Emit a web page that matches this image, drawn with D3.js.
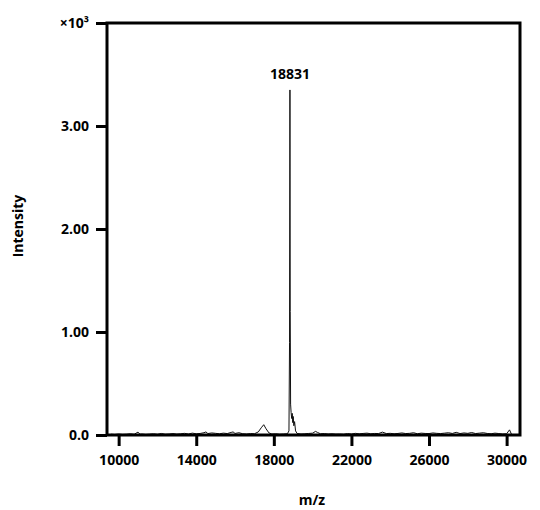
<!DOCTYPE html>
<html>
<head>
<meta charset="utf-8">
<script src="https://cdn.jsdelivr.net/npm/d3@7"></script>
<style>
  html, body { margin: 0; padding: 0; background: #fff; }
  svg text { font-family: "Open Sans", "DejaVu Sans", sans-serif; font-weight: 700; fill: #000; }
</style>
</head>
<body>
<svg id="chart" width="540" height="510"></svg>
<script>
// ---- data ----
const mz = [9600, 9800, 10000, 10200, 10400, 10600, 10800, 11000, 11100, 11200, 11400, 11600, 11800, 12000, 12200, 12400, 12600, 12800, 13000, 13200, 13400, 13600, 13800, 14000, 14200, 14400, 14500, 14600, 14800, 15000, 15200, 15400, 15600, 15800, 15900, 16000, 16200, 16400, 16600, 16800, 17000, 17200, 17350, 17480, 17600, 17750, 17900, 18100, 18300, 18500, 18700, 18780, 18810, 18831, 18845, 18865, 18890, 18920, 18950, 18975, 19000, 19030, 19070, 19120, 19200, 19400, 19600, 19800, 20000, 20150, 20250, 20400, 20600, 20800, 21000, 21200, 21400, 21600, 21800, 22000, 22200, 22400, 22600, 22800, 23000, 23200, 23400, 23600, 23800, 24000, 24200, 24400, 24600, 24800, 25000, 25200, 25400, 25600, 25800, 26000, 26200, 26400, 26600, 26800, 27000, 27200, 27400, 27600, 27800, 28000, 28200, 28400, 28600, 28800, 29000, 29200, 29400, 29600, 29800, 30000, 30150, 30250];
const intensity = [8, 5, 10, 6, 8, 12, 7, 28, 8, 10, 6, 9, 12, 7, 15, 8, 10, 14, 9, 12, 16, 10, 18, 12, 15, 22, 30, 14, 20, 16, 12, 18, 14, 25, 30, 15, 22, 12, 10, 14, 12, 30, 70, 100, 60, 20, 10, 12, 8, 10, 12, 40, 900, 3350, 1200, 300, 220, 160, 210, 120, 180, 90, 130, 40, 15, 10, 12, 15, 18, 35, 25, 12, 14, 10, 12, 9, 10, 8, 14, 10, 16, 12, 15, 18, 12, 15, 14, 28, 14, 16, 12, 15, 20, 14, 16, 22, 12, 18, 15, 14, 20, 16, 14, 18, 22, 15, 26, 14, 20, 16, 24, 14, 18, 22, 15, 12, 18, 14, 10, 12, 50, 8];
const xTicks = [10000, 14000, 18000, 22000, 26000, 30000];
const yTicks = [0, 1000, 2000, 3000, 4000];
const yTickLabels = ["0.0", "1.00", "2.00", "3.00", "\u00d710\u00b3"];
const peakLabel = { mz: 18831, intensity: 3350, text: "18831" };

// ---- layout ----
const svg = d3.select("#chart");
const mLeft = 107, mRight = 520, mTop = 23, mBottom = 435;
const x = d3.scaleLinear().domain([9400, 30690]).range([mLeft, mRight]);
const y = d3.scaleLinear().domain([0, 4000]).range([mBottom, mTop]);

// spectrum line
const pts = mz.map((m, i) => [m, intensity[i]]);
svg.append("path")
  .datum(pts)
  .attr("fill", "none")
  .attr("stroke", "#111")
  .attr("stroke-width", 1)
  .attr("stroke-linejoin", "round")
  .attr("d", d3.line().x(d => x(d[0])).y(d => y(d[1])));

// y axis
const yAxis = svg.append("g")
  .attr("transform", `translate(${mLeft},0)`)
  .call(d3.axisLeft(y).tickValues(yTicks).tickSize(11).tickPadding(7)
    .tickFormat((d, i) => yTickLabels[i]));
yAxis.select(".domain").remove();
yAxis.selectAll(".tick line").attr("stroke", "#000").attr("stroke-width", 3);
yAxis.selectAll(".tick text").style("font-size", "14px").style("font-family", "'Open Sans', sans-serif").style("font-weight", 700);

// x axis
const xAxis = svg.append("g")
  .attr("transform", `translate(0,${mBottom})`)
  .call(d3.axisBottom(x).tickValues(xTicks).tickSize(11).tickPadding(9)
    .tickFormat(d3.format("d")));
xAxis.select(".domain").remove();
xAxis.selectAll(".tick line").attr("stroke", "#000").attr("stroke-width", 3);
xAxis.selectAll(".tick text").style("font-size", "14px").style("font-family", "'Open Sans', sans-serif").style("font-weight", 700);

// frame
svg.append("rect")
  .attr("x", mLeft).attr("y", mTop)
  .attr("width", mRight - mLeft).attr("height", mBottom - mTop)
  .attr("fill", "none").attr("stroke", "#000").attr("stroke-width", 3);

// peak label
svg.append("text")
  .attr("x", x(peakLabel.mz))
  .attr("y", y(peakLabel.intensity) - 11)
  .attr("text-anchor", "middle")
  .style("font-size", "14px")
  .text(peakLabel.text);

// axis titles
svg.append("text")
  .attr("x", 312).attr("y", 505)
  .attr("text-anchor", "middle")
  .style("font-size", "14px")
  .text("m/z");
svg.append("text")
  .attr("transform", "translate(23,226) rotate(-90)")
  .attr("text-anchor", "middle")
  .style("font-size", "14px")
  .text("Intensity");
</script>
</body>
</html>
